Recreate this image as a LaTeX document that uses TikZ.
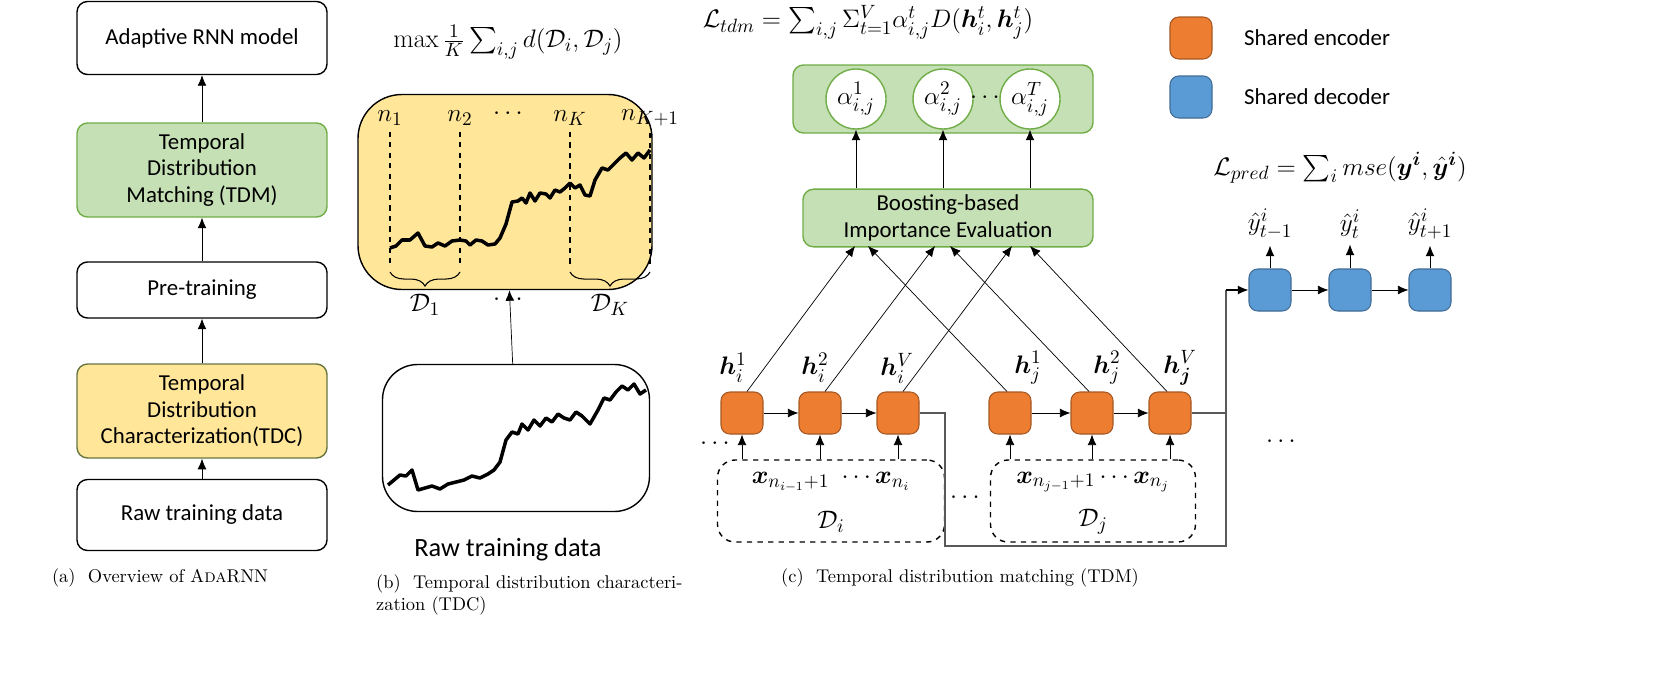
\documentclass[tikz,border=0pt]{standalone}
\usepackage{amsmath,amssymb,bm}
\usepackage{fontspec}
\newfontfamily\carl{Carlito}
\usetikzlibrary{arrows.meta,decorations.pathreplacing}
\definecolor{enc}{HTML}{ED7D31}
\definecolor{dec}{HTML}{5B9BD5}
\definecolor{grn}{HTML}{C5E0B4}
\definecolor{grnd}{HTML}{70AD47}
\definecolor{ylw}{HTML}{FFE699}
\begin{document}
\begin{tikzpicture}[x=0.02cm,y=-0.02cm,>={Latex[length=6pt,width=5pt]},
  font=\carl\fontsize{13}{15}\selectfont,
  box/.style={draw,rounded corners=6pt,align=center,minimum width=250*0.02cm,line width=0.8pt},
  cell/.style={draw=enc!70!black,fill=enc,rounded corners=5pt,minimum size=42*0.02cm,line width=0.6pt},
  dcell/.style={draw=dec!70!black,fill=dec,rounded corners=5pt,minimum size=42*0.02cm,line width=0.6pt},
  alp/.style={circle,draw=grnd,fill=white,line width=0.8pt,minimum size=60*0.02cm,inner sep=0pt},
  capt/.style={font=\rmfamily\fontsize{10.5}{12.5}\selectfont},
  mth/.style={font=\fontsize{15}{17}\selectfont},
  ser/.style={line width=2pt,line join=round}]
\useasboundingbox (0,0) rectangle (1663,676);

% (a) overview
\node[box,minimum height=73*0.02cm] (ada) at (202,38) {Adaptive RNN model};
\node[box,fill=grn,draw=grnd,minimum height=94*0.02cm] (tdm) at (202,170) {Temporal\\Distribution\\Matching (TDM)};
\node[box,minimum height=56*0.02cm] (pre) at (202,290) {Pre-training};
\node[box,fill=ylw,draw=grnd!60!ylw!60!black,minimum height=94*0.02cm] (tdc) at (202,411) {Temporal\\Distribution\\Characterization(TDC)};
\node[box,minimum height=71*0.02cm] (raw) at (202,515) {Raw training data};
\draw[->] (raw) -- (tdc);
\draw[->] (tdc) -- (pre);
\draw[->] (pre) -- (tdm);
\draw[->] (tdm) -- (ada);
\node[capt] (capa) at (160,578) {(a)\ \ Overview of A\textsc{da}RNN};

% (b) TDC
\node[mth] (maxf) at (508,42) {$\max\frac{1}{K}\sum_{i,j} d(\mathcal{D}_i,\mathcal{D}_j)$};
\node[draw,fill=ylw,rounded corners=25pt,line width=0.8pt,minimum width=294*0.02cm,minimum height=195*0.02cm] (tdcb) at (505,192) {};
\node[draw,rounded corners=20pt,line width=0.8pt,minimum width=267*0.02cm,minimum height=147*0.02cm] (rawb) at (516,438) {};
\draw[->] (rawb) -- (tdcb);
\node[font=\carl\fontsize{15}{17}\selectfont] (rawl) at (508,550) {Raw training data};
\foreach \x/\l in {390/n_1,460/n_2,570/n_K,650/n_{K+1}}{
  \node[mth] (n\x) at (\x,118) {$\l$};
  \draw[dashed,line width=1.2pt] (n\x.south) -- (\x,268);}
\node[mth] (ndots) at (510,114) {$\cdots$};
\draw[decorate,decoration={brace,mirror,amplitude=8pt},line width=0.6pt] (390,272) -- (460,272);
\draw[decorate,decoration={brace,mirror,amplitude=8pt},line width=0.6pt] (570,272) -- (650,272);
\node[mth] (d1) at (425,305) {$\mathcal{D}_1$};
\node[mth] (dd) at (510,300) {$\cdots$};
\node[mth] (dk) at (610,305) {$\mathcal{D}_K$};
\draw[ser] (390,248)--(396,246)--(402,240)--(410,240)--(418,233)--(425,246)--(432,247)--(438,243)--(445,246)--(452,241)--(460,240)--(466,241)--(470,245)--(476,240)--(482,241)--(488,245)--(495,244)--(500,238)--(506,224)--(512,202)--(518,201)--(522,198)--(526,203)--(530,193)--(535,201)--(540,193)--(546,194)--(550,198)--(555,190)--(560,192)--(565,188)--(570,183)--(575,188)--(580,185)--(585,195)--(590,196)--(595,180)--(602,168)--(608,170)--(614,164)--(620,158)--(626,153)--(632,160)--(638,153)--(644,158)--(650,150);
\draw[ser] (388,485)--(394,480)--(400,475)--(406,476)--(412,470)--(418,490)--(425,488)--(432,486)--(440,489)--(448,484)--(456,482)--(464,480)--(472,476)--(480,478)--(488,474)--(494,470)--(500,462)--(506,440)--(512,432)--(518,434)--(522,424)--(528,430)--(534,420)--(540,426)--(546,418)--(552,422)--(558,414)--(564,418)--(570,420)--(576,412)--(582,416)--(590,424)--(598,410)--(604,398)--(610,400)--(616,392)--(622,386)--(628,390)--(634,384)--(640,394)--(646,390);
\node[capt,align=left,anchor=north west] (capb) at (370,568) {(b)\ \ Temporal distribution characteri-\\zation (TDC)};

% (c) TDM
\node[mth] (ltdm) at (868,22) {$\mathcal{L}_{tdm}=\sum_{i,j}\Sigma_{t=1}^{V}\alpha_{i,j}^{t}D(\bm{h}_i^t,\bm{h}_j^t)$};
\node[draw=grnd,fill=grn,rounded corners=6pt,line width=0.8pt,minimum width=300*0.02cm,minimum height=68*0.02cm] (abox) at (943,99) {};
\node[alp,mth] (a1) at (856,99) {$\alpha_{i,j}^1$};
\node[alp,mth] (a2) at (943,99) {$\alpha_{i,j}^2$};
\node[alp,mth] (a3) at (1030,99) {$\alpha_{i,j}^T$};
\node[mth] (adots) at (987,98) {$\cdots$};
\node[draw=grnd,fill=grn,rounded corners=6pt,line width=0.8pt,minimum width=290*0.02cm,minimum height=55*0.02cm,align=center] (boost) at (948,218) {Boosting-based\\Importance Evaluation};
\draw[->] (boost.north -| a1) -- (a1);
\draw[->] (boost.north -| a2) -- (a2);
\draw[->] (boost.north -| a3) -- (a3);

\node[cell] (hi1) at (742,413) {};
\node[cell] (hi2) at (820,413) {};
\node[cell] (hiV) at (898,413) {};
\node[cell] (hj1) at (1010,413) {};
\node[cell] (hj2) at (1092,413) {};
\node[cell] (hjV) at (1170,413) {};
\draw[->] (hi1) -- (hi2);
\draw[->] (hi2) -- (hiV);
\draw[->] (hj1) -- (hj2);
\draw[->] (hj2) -- (hjV);
\node[mth] (lhi1) at (733,368) {$\bm{h}_i^1$};
\node[mth] (lhi2) at (815,368) {$\bm{h}_i^2$};
\node[mth] (lhiV) at (897,368) {$\bm{h}_i^V$};
\node[mth] (lhj1) at (1028,368) {$\bm{h}_j^1$};
\node[mth] (lhj2) at (1107,368) {$\bm{h}_j^2$};
\node[mth] (lhjV) at (1180,368) {$\bm{h}_{\bm{j}}^V$};
\coordinate (b1) at (855,246); \coordinate (b2) at (935,246); \coordinate (b3) at (1012,246);
\coordinate (b4) at (868,246); \coordinate (b5) at (950,246); \coordinate (b6) at (1030,246);
\draw[->] (hi1.north) ++(5,0) -- (b1);
\draw[->] (hi2.north) ++(5,0) -- (b2);
\draw[->] (hiV.north) ++(5,0) -- (b3);
\draw[->] (hj1.north) ++(-3,0) -- (b4);
\draw[->] (hj2.north) ++(-3,0) -- (b5);
\draw[->] (hjV.north) ++(-3,0) -- (b6);

\node[draw,dashed,rounded corners=10pt,line width=0.8pt,minimum width=227*0.02cm,minimum height=82*0.02cm] (di) at (831,501) {};
\node[draw,dashed,rounded corners=10pt,line width=0.8pt,minimum width=205*0.02cm,minimum height=82*0.02cm] (dj) at (1093,501) {};
\node[mth] (xi) at (831,482) {$\bm{x}_{n_{i-1}+1}\ \cdots\bm{x}_{n_i}$};
\node[mth] (Di) at (831,522) {$\mathcal{D}_i$};
\node[mth] (xj) at (1093,482) {$\bm{x}_{n_{j-1}+1}\cdots\bm{x}_{n_j}$};
\node[mth] (Dj) at (1093,522) {$\mathcal{D}_j$};
\foreach \c in {hi1,hi2,hiV}{\draw[->] (di.north -| \c) -- (\c);}
\foreach \c in {hj1,hj2,hjV}{\draw[->] (dj.north -| \c) -- (\c);}
\node[mth] (ldots) at (717,444) {$\cdots$};
\node[mth] (mdots) at (967,498) {$\cdots$};
\node[mth] (rdots) at (1283,442) {$\cdots$};

\node[dcell] (y1) at (1270,290) {};
\node[dcell] (y2) at (1350,290) {};
\node[dcell] (y3) at (1430,290) {};
\draw[->] (y1) -- (y2);
\draw[->] (y2) -- (y3);
\coordinate (c1) at (945,413); \coordinate (c2) at (945,546);
\coordinate (c3) at (1226,546); \coordinate (c4) at (1226,290);
\coordinate (c5) at (1226,413);
\draw[gray!70!black,line width=0.6pt] (hiV.east) -- (c1) -- (c2) -- (c3) -- (c4);
\draw[gray!70!black,line width=0.6pt] (hjV.east) -- (c5);
\draw[->,line width=0.6pt] (c4) -- (y1);
\node[mth] (ly1) at (1270,224) {$\hat{y}_{t-1}^{i}$};
\node[mth] (ly2) at (1350,224) {$\hat{y}_{t}^{i}$};
\node[mth] (ly3) at (1430,224) {$\hat{y}_{t+1}^{i}$};
\draw[->] (y1) -- (ly1);
\draw[->] (y2) -- (ly2);
\draw[->] (y3) -- (ly3);
\node[mth] (lpred) at (1340,168) {$\mathcal{L}_{pred}=\sum_i mse(\bm{y^i},\bm{\hat{y}^i})$};

\node[cell] (leg1) at (1191,38) {};
\node[dcell] (leg2) at (1191,97) {};
\node[anchor=west] (lt1) at (1238,38) {Shared encoder};
\node[anchor=west] (lt2) at (1238,97) {Shared decoder};
\node[capt] (capc) at (960,578) {(c)\ \ Temporal distribution matching (TDM)};
\end{tikzpicture}
\end{document}
